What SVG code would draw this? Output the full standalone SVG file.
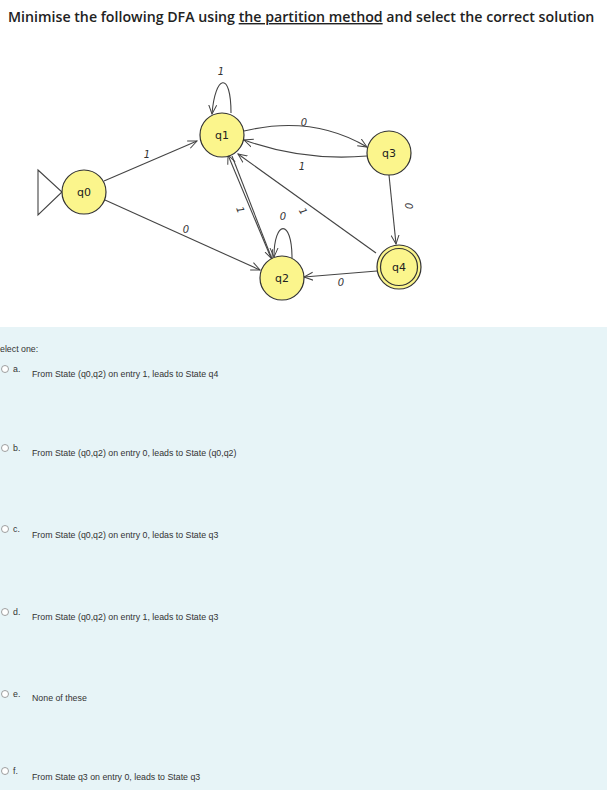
<svg xmlns="http://www.w3.org/2000/svg" width="607" height="790" viewBox="0 0 607 790">
<style>
.st circle{fill:#fbf58c;stroke:#333;stroke-width:1.2}
.st text{font-family:"DejaVu Sans",sans-serif;font-size:11px;fill:#222;text-anchor:middle}
.e{fill:none;stroke:#444;stroke-width:1.1;marker-end:url(#a)}
.l{font-family:"DejaVu Sans",sans-serif;font-size:10px;fill:#333;text-anchor:middle;font-style:italic}
.o{font-family:"Liberation Sans",sans-serif;font-size:8.8px;fill:#333}
.c{fill:#fff;stroke:#888;stroke-width:0.8}
</style>
<defs><marker id="a" markerWidth="10" markerHeight="10" refX="9" refY="5" orient="auto" markerUnits="userSpaceOnUse"><path d="M0,1 L9,5 L0,9" fill="none" stroke="#444" stroke-width="1"/></marker></defs>
<rect width="607" height="790" fill="#fff"/>
<rect x="0" y="327" width="607" height="463" fill="#e7f4f7"/>
<text x="8" y="22" font-family="Open Sans,sans-serif" font-size="14.2" font-weight="600" fill="#222">Minimise the following DFA using <tspan text-decoration="underline">the partition method</tspan> and select the correct solution</text>
<g id="connectors">
<path d="M38,170 L62,192 L38,215 Z" fill="none" stroke="#444" stroke-width="1.1"/>
<path class="e" d="M104,181 L197,141"/>
<path class="e" d="M105,200 L260,270"/>
<path class="e" d="M231,113 C231,70 215,75 212,114"/>
<path class="e" d="M244,131 C290,120 330,125 367,147"/>
<path class="e" d="M367,156 C320,160 280,153 244,140"/>
<path class="e" d="M376,253 L238,154"/>
<path class="e" d="M271,258 L228,155"/>
<path class="e" d="M232,156 L272,259"/>
<path class="e" d="M292,258 C292,218 274,220 274,257"/>
<path class="e" d="M389,175 L396,244"/>
<path class="e" d="M377,271 L304,277"/>
<text class="l" x="221" y="75">1</text>
<text class="l" x="147" y="158">1</text>
<text class="l" x="186" y="233">0</text>
<text class="l" x="304" y="126">0</text>
<text class="l" x="302" y="170">1</text>
<text class="l" x="237" y="211" transform="rotate(70 237 211)">1</text>
<text class="l" x="300" y="213" transform="rotate(60 300 213)">1</text>
<text class="l" x="283" y="220">0</text>
<text class="l" x="405" y="206" transform="rotate(90 405 206)">0</text>
<text class="l" x="341" y="286">0</text>
</g>
<g id="q0" class="st"><circle cx="84" cy="192" r="22"/><text x="84" y="196">q0</text></g>
<g id="q1" class="st"><circle cx="222" cy="135" r="22"/><text x="222" y="139">q1</text></g>
<g id="q3" class="st"><circle cx="389" cy="153" r="22"/><text x="389" y="157">q3</text></g>
<g id="q2" class="st"><circle cx="282" cy="278" r="22"/><text x="282" y="282">q2</text></g>
<g id="q4" class="st"><circle cx="399" cy="267" r="22"/><circle cx="399" cy="267" r="18.5"/><text x="399" y="271">q4</text></g>
<g id="options">
<text class="o" x="0" y="352">elect one:</text>
<circle class="c" cx="5" cy="369" r="3.5"/><text class="o" x="13" y="372">a.</text><text class="o" x="32" y="377">From State (q0,q2) on entry 1, leads to State q4</text>
<circle class="c" cx="5" cy="448" r="3.5"/><text class="o" x="13" y="451">b.</text><text class="o" x="32" y="456">From State (q0,q2) on entry 0, leads to State (q0,q2)</text>
<circle class="c" cx="5" cy="529" r="3.5"/><text class="o" x="13" y="532">c.</text><text class="o" x="32" y="538">From State (q0,q2) on entry 0, ledas to State q3</text>
<circle class="c" cx="5" cy="612" r="3.5"/><text class="o" x="13" y="615">d.</text><text class="o" x="32" y="620">From State (q0,q2) on entry 1, leads to State q3</text>
<circle class="c" cx="5" cy="694" r="3.5"/><text class="o" x="13" y="697">e.</text><text class="o" x="32" y="701">None of these</text>
<circle class="c" cx="5" cy="771" r="3.5"/><text class="o" x="13" y="774">f.</text><text class="o" x="32" y="780">From State q3 on entry 0, leads to State q3</text>
</g>
</svg>
